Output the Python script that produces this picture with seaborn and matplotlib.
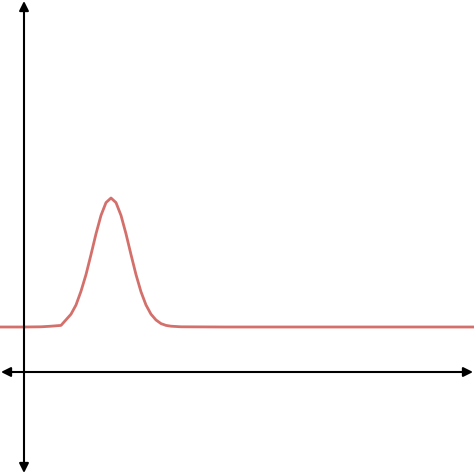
import matplotlib
matplotlib.use("Agg")
import matplotlib.pyplot as plt
import seaborn as sns

sns.set_style("white")

# curve samples (x, y in axis units)
x_vals = [-1.2, 0.0, 0.85, 1.35, 1.85, 2.35, 2.6, 2.85, 3.1, 3.35, 3.6, 3.85, 4.1, 4.35,
          4.6, 4.85, 5.1, 5.35, 5.6, 5.85, 6.1, 6.35, 6.6, 6.85, 7.1, 7.35, 7.85, 10.0, 22.5]
y_vals = [2.25, 2.25, 2.26, 2.29, 2.33, 2.89, 3.35, 4.04, 4.87, 5.87, 6.91, 7.83, 8.47, 8.70,
          8.47, 7.83, 6.91, 5.87, 4.87, 4.01, 3.35, 2.89, 2.60, 2.42, 2.33, 2.29, 2.26, 2.25, 2.25]

fig = plt.figure(figsize=(4.74, 4.74), dpi=100)
ax = fig.add_axes([0, 0, 1, 1])
sns.lineplot(x=x_vals, y=y_vals, ax=ax, color="#d4706b", linewidth=2)

xmin, xmax, ymin, ymax = -1.2, 22.5, -5.1, 18.6
ax.set_xlim(xmin, xmax)
ax.set_ylim(ymin, ymax)
ax.axis("off")

arrow = dict(arrowstyle="<|-|>", color="black", lw=1.5, mutation_scale=14, shrinkA=0, shrinkB=0)
ax.annotate("", xy=(xmin + 0.05, 0), xytext=(xmax - 0.05, 0), arrowprops=arrow)
ax.annotate("", xy=(0, ymin + 0.05), xytext=(0, ymax - 0.05), arrowprops=arrow)

fig.savefig("out.png", dpi=100)
